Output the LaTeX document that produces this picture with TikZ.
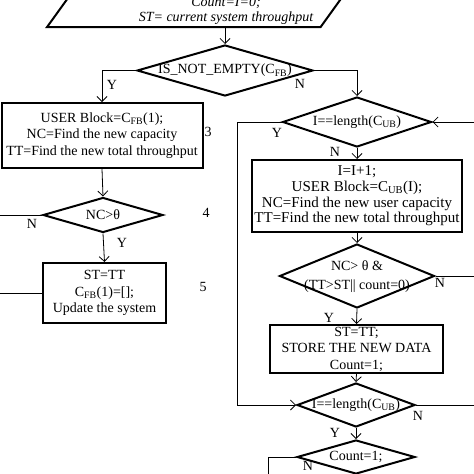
\documentclass[tikz,border=0pt]{standalone}
\usepackage{fontspec}
\setmainfont{Liberation Serif}
\usetikzlibrary{shapes.geometric,arrows.meta}
\newcommand{\zw}[1]{\makebox[0pt]{#1}}
\begin{document}
\begin{tikzpicture}[x=1pt,y=-1pt,
  font=\fontsize{14}{16.5}\selectfont,
  box/.style={draw,line width=2pt,inner sep=0pt,align=center},
  dec/.style={draw,diamond,aspect=1,line width=2pt,inner sep=0pt},
  arr/.style={line width=0.8pt,-{Straight Barb[length=5pt,width=10pt]}},
  ln/.style={line width=0.8pt}]
\useasboundingbox (0,0) rectangle (474,474);
% start
\node[draw,line width=2pt,trapezium,trapezium left angle=66,trapezium right angle=114,
  trapezium stretches=true,minimum width=358,minimum height=117] (init) at (226,-31.5) {};
\node[font=\itshape\fontsize{14}{15}\selectfont,align=center] (initnote) at (226,10.5)
  {Count=I=0;\\ST= current system throughput};
% left column
\node[dec,minimum width=176,minimum height=51] (empty) at (225,70.5) {\zw{IS\_NOT\_EMPTY(C\textsubscript{FB})}};
\node[box,minimum width=201,minimum height=65] (fbuser) at (102,135.5)
  {USER Block=C\textsubscript{FB}(1);\\NC=Find the new capacity\\TT=Find the new total throughput};
\node[dec,minimum width=120,minimum height=35] (nccheck) at (103,215) {\zw{NC>θ}};
\node[box,minimum width=123,minimum height=60] (fbupdate) at (104.5,293)
  {ST=TT\\C\textsubscript{FB}(1)=[];\\Update the system};
% right column
\node[dec,minimum width=149,minimum height=50] (lenA) at (357,122) {\zw{I==length(C\textsubscript{UB})}};
\node[box,minimum width=210,minimum height=72,font=\fontsize{15}{15.7}\selectfont] (ubuser) at (357,196)
  {I=I+1;\\USER Block=C\textsubscript{UB}(I);\\NC=Find the new user capacity\\TT=Find the new total throughput};
\node[dec,minimum width=155,minimum height=64] (better) at (357,276)
  {\zw{\renewcommand{\arraystretch}{1.15}\begin{tabular}{@{}c@{}}NC> θ \&\\(TT>ST|| count=0)\end{tabular}}};
\node[box,minimum width=173,minimum height=48] (store) at (356.5,349)
  {ST=TT;\\STORE THE NEW DATA\\Count=1;};
\node[dec,minimum width=118,minimum height=44] (lenB) at (356,405) {\zw{I==length(C\textsubscript{UB})}};
\node[dec,minimum width=118,minimum height=34] (cnt) at (356,457) {\zw{Count=1;}};
% free ends
\coordinate (westout) at (-5,0);
\coordinate (eastout) at (480,0);
\coordinate (southout) at (0,480);
\coordinate (loop) at (237,0);
\coordinate (cntN) at (268,0);
% connectors
\draw[arr] (init.south -| empty.north) -- (empty.north);
\draw[arr] (empty.west) -| (fbuser.north);
\draw[arr] (empty.east) -| (lenA.north);
\draw[arr] (fbuser.south) -- (nccheck.north);
\draw[ln] (nccheck.west) -- (nccheck.west -| westout);
\draw[arr] (nccheck.south) -- (fbupdate.north);
\draw[ln] (fbupdate.west) -- (fbupdate.west -| westout);
\draw[arr] (lenA.east -| eastout) -- (lenA.east);
\draw[arr] (lenA.west) -- (lenA.west -| loop) -- (lenB.west -| loop) -- (lenB.west);
\draw[arr] (lenA.south) -- (ubuser.north);
\draw[arr] (ubuser.south) -- (better.north);
\draw[ln] (better.east) -- (better.east -| eastout);
\draw[arr] (better.south) -- (store.north);
\draw[arr] (store.south) -- (lenB.north);
\draw[ln] (lenB.east) -- (lenB.east -| eastout);
\draw[arr] (lenB.south) -- (cnt.north);
\draw[ln] (cnt.west) -- (cnt.west -| cntN) -- (cntN |- southout);
\draw[ln] (cnt.south) -- (cnt.south |- southout);
% labels
\node (yA) at (112,85) {Y};
\node (nA) at (300,84) {N};
\node (n3) at (208,132) {3};
\node (n4) at (206,213) {4};
\node (n5) at (203,287) {5};
\node (nB) at (32,224) {N};
\node (yB) at (122,243) {Y};
\node (yC) at (277,133) {Y};
\node (nC) at (335,152) {N};
\node (nD) at (440,283) {N};
\node (yD) at (329,318) {Y};
\node (nE) at (418,416) {N};
\node (yE) at (335,433) {Y};
\node (nF) at (308,466) {N};
\end{tikzpicture}
\end{document}
